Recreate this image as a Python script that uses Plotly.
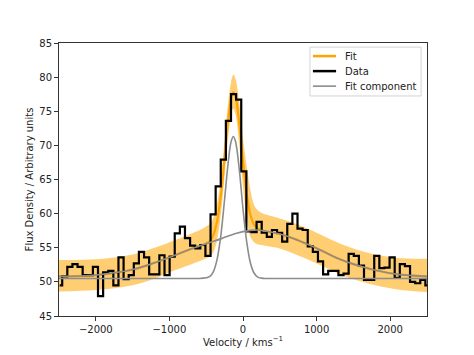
import plotly.graph_objects as go

# ---- Data ----
vel = [-2491, -2422, -2352, -2283, -2213, -2144, -2074, -2005, -1935, -1866,
       -1796, -1727, -1657, -1588, -1518, -1449, -1379, -1310, -1240, -1171,
       -1101, -1032, -962, -893, -823, -754, -684, -615, -545, -476,
       -406, -337, -267, -198, -128, -59, 11, 80, 150, 219,
       289, 358, 428, 497, 567, 636, 706, 775, 845, 914,
       984, 1053, 1123, 1192, 1262, 1331, 1401, 1470, 1540, 1609,
       1679, 1748, 1818, 1887, 1957, 2026, 2096, 2165, 2235, 2304,
       2374, 2443, 2513]
flux = [49.5, 50.8, 52.2, 52.6, 52.2, 51.0, 51.0, 52.2, 47.9, 51.4,
        51.6, 49.5, 53.6, 50.4, 51.0, 52.7, 54.4, 53.6, 51.1, 51.1,
        53.9, 51.0, 53.7, 57.1, 58.1, 56.4, 55.3, 54.9, 55.4, 53.8,
        59.9, 64.0, 67.9, 73.6, 77.5, 76.7, 66.2, 57.4, 57.3, 58.8,
        57.2, 56.6, 57.6, 57.2, 55.9, 58.5, 60.0, 57.8, 57.6, 55.2,
        54.4, 53.0, 51.1, 51.6, 51.6, 51.0, 51.2, 54.1, 53.8, 52.4,
        50.3, 50.3, 53.8, 52.0, 52.1, 53.6, 50.6, 52.6, 52.3, 50.0,
        49.8, 50.3, 49.5]

fit_v = [-2500, -2000, -1500, -1200, -900, -700, -550, -450, -400, -350,
         -300, -250, -200, -150, -130, -100, -50, 0, 50, 100,
         150, 200, 300, 500, 700, 900, 1100, 1300, 1500, 1800, 2100, 2500]
fit_y = [50.8, 51.0, 51.8, 52.8, 54.0, 54.85, 55.4, 56.0, 56.95, 59.0,
         62.7, 68.15, 73.85, 77.45, 77.8, 77.1, 73.15, 67.6, 62.9, 59.85,
         58.4, 57.8, 57.45, 57.0, 56.3, 55.4, 54.4, 53.4, 52.6, 51.7, 51.1, 50.8]
fit_lo = [48.6, 48.8, 49.5, 50.5, 51.8, 52.6, 53.2, 53.7, 54.4, 56.3,
          60.0, 65.6, 71.4, 75.0, 75.4, 74.5, 70.0, 64.0, 59.3, 56.6,
          55.8, 55.5, 55.3, 54.9, 54.1, 53.2, 52.2, 51.2, 50.4, 49.5, 48.9, 48.5]
fit_hi = [53.2, 53.3, 54.0, 55.0, 56.2, 57.1, 57.8, 58.5, 59.5, 61.6,
          65.3, 70.8, 76.4, 79.9, 80.4, 79.7, 76.2, 71.0, 67.0, 63.5,
          61.3, 60.5, 59.9, 59.3, 58.6, 57.7, 56.7, 55.7, 54.9, 54.0, 53.5, 53.4]

narrow_v = [-2500, -1000, -700, -600, -500, -450, -400, -350, -300, -250,
            -200, -160, -130, -100, -50, 0, 50, 100, 150, 200,
            250, 300, 600, 1000, 2500]
narrow_y = [50.5, 50.5, 50.5, 50.5, 50.6, 50.8, 51.55, 53.4, 56.9, 62.1,
            67.6, 70.6, 71.3, 70.5, 66.4, 60.7, 55.9, 52.8, 51.3, 50.7,
            50.55, 50.5, 50.5, 50.5, 50.5]

broad_v = [-2500, -2000, -1500, -1200, -900, -700, -500, -300, -100, 100,
           200, 300, 500, 700, 900, 1100, 1300, 1500, 1800, 2100, 2500]
broad_y = [50.8, 51.0, 51.8, 52.8, 54.0, 54.85, 55.6, 56.3, 57.1, 57.55,
           57.6, 57.45, 57.0, 56.3, 55.4, 54.4, 53.4, 52.6, 51.7, 51.1, 50.8]

x_ticks = [-2000, -1000, 0, 1000, 2000]
y_ticks = [45, 50, 55, 60, 65, 70, 75, 80, 85]

legend_labels = ["Fit", "Data", "Fit component"]

ORANGE = "#FFA500"
BAND = "rgba(255,165,0,0.55)"
GRAY = "#8c8c8c"
legend_styles = [(ORANGE, 2.5), ("black", 2.5), (GRAY, 1.6)]

fig = go.Figure()
fig.add_trace(go.Scatter(x=fit_v, y=fit_lo, mode="lines", line=dict(width=0, shape="spline"),
                         showlegend=False, hoverinfo="skip"))
fig.add_trace(go.Scatter(x=fit_v, y=fit_hi, mode="lines", line=dict(width=0, shape="spline"),
                         fill="tonexty", fillcolor=BAND, showlegend=False, hoverinfo="skip"))
fig.add_trace(go.Scatter(x=fit_v, y=fit_y, mode="lines", name=legend_labels[0], showlegend=False,
                         line=dict(color=ORANGE, width=2.2, shape="spline")))
fig.add_trace(go.Scatter(x=vel, y=flux, mode="lines", name=legend_labels[1], showlegend=False,
                         line=dict(color="black", width=2.2, shape="hvh")))
fig.add_trace(go.Scatter(x=narrow_v, y=narrow_y, mode="lines", name=legend_labels[2], showlegend=False,
                         line=dict(color=GRAY, width=1.6, shape="spline")))
fig.add_trace(go.Scatter(x=broad_v, y=broad_y, mode="lines", name=legend_labels[2],
                         showlegend=False, line=dict(color=GRAY, width=1.6, shape="spline")))

# ---- legend drawn as a matplotlib-style box (paper coordinates) ----
fig.add_shape(type="rect", xref="paper", yref="paper", x0=0.682, x1=0.984, y0=0.806, y1=0.985,
              line=dict(color="#d4d4d4", width=1), fillcolor="rgba(255,255,255,0.85)", layer="above")
row_y = [0.952, 0.897, 0.842]
for label, (col, w), yy in zip(legend_labels, legend_styles, row_y):
    fig.add_shape(type="line", xref="paper", yref="paper", x0=0.690, x1=0.753, y0=yy, y1=yy,
                  line=dict(color=col, width=w), layer="above")
    fig.add_annotation(xref="paper", yref="paper", x=0.772, y=yy, text=label, showarrow=False,
                       xanchor="left", yanchor="middle", font=dict(size=10, color="#222222"))

axis_common = dict(showline=True, linecolor="#333333", linewidth=1, mirror=True,
                   ticks="outside", ticklen=4, tickcolor="#333333", showgrid=False,
                   zeroline=False, automargin=False,
                   tickfont=dict(size=10, color="#222222"))

fig.update_layout(
    width=474, height=355,
    margin=dict(l=59, r=47, t=43, b=39),
    paper_bgcolor="white", plot_bgcolor="white",
    font=dict(family="DejaVu Sans", size=10, color="#222222"),
    showlegend=False,
    xaxis=dict(range=[-2500, 2500], tickvals=x_ticks,
               title=dict(text="Velocity / kms<sup>−1</sup>", standoff=4, font=dict(size=10)),
               **axis_common),
    yaxis=dict(range=[45, 85], tickvals=y_ticks,
               title=dict(text="Flux Density / Arbitrary units", standoff=3, font=dict(size=10)),
               **axis_common),
)

fig.write_html("out.html", post_script="document.body.style.margin='0';",
               config={"displayModeBar": False})
